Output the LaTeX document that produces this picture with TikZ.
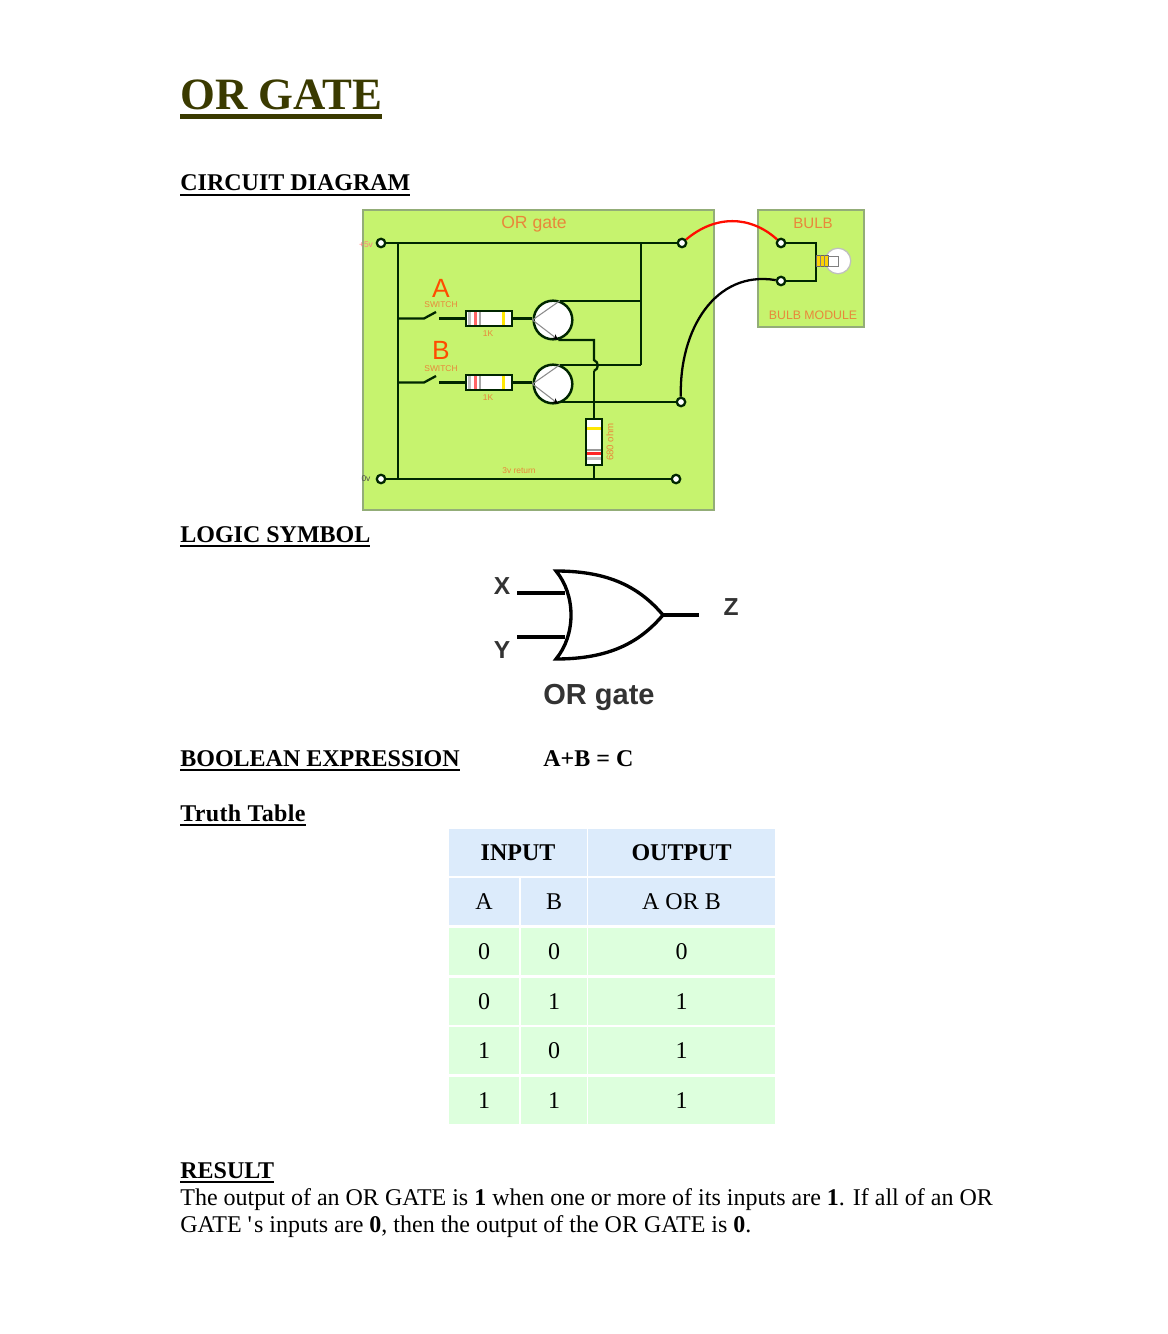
\documentclass[tikz,border=0pt]{standalone}
\usepackage{fontspec}
\setmainfont{Liberation Serif}
\setsansfont{Liberation Sans}
\newfontfamily\plainserif{Liberation Serif}
\usetikzlibrary{calc, arrows.meta}
\definecolor{panelgreen}{HTML}{C6F36E}
\definecolor{panelline}{HTML}{93AD78}
\definecolor{labelorange}{HTML}{E8873A}
\definecolor{titleolive}{HTML}{3A3A00}
\definecolor{headblue}{HTML}{DCEBFB}
\definecolor{cellgreen}{HTML}{DDFFDD}
\newcommand{\ulined}[3][-2.9pt]{\setbox0\hbox{#3}\rlap{\rule[#1]{\wd0}{#2}}\box0}
\tikzset{every node/.style={align=center}}
\tikzset{bodytext/.style={anchor=base west, inner sep=0pt, font=\fontsize{13.66}{15.4}\selectfont}}
\tikzset{headtext/.style={bodytext, font=\fontsize{13.66}{15.4}\selectfont\bfseries}}
\tikzset{wire/.style={line width=1.3pt, black!85!green}}
\tikzset{terminal/.style={circle, draw=black!85!green, fill=white, line width=1.3pt, inner sep=0pt, minimum size=4.8pt}}
\tikzset{panel/.style={draw=panelline, fill=panelgreen, line width=0.7pt}}
\tikzset{tinylabel/.style={text=labelorange, inner sep=0pt, font=\sffamily\fontsize{4.8}{4.8}\selectfont}}
\tikzset{panellabel/.style={text=labelorange, inner sep=0pt, font=\sffamily\fontsize{10}{10}\selectfont}}
\tikzset{bigletter/.style={text=orange!60!red, inner sep=0pt, font=\sffamily\fontsize{15}{15}\selectfont}}
\tikzset{transistor/.style={circle, draw=black!85!green, fill=white, line width=1.4pt, inner sep=0pt, minimum size=22pt}}
\tikzset{inner line/.style={black!45, line width=0.6pt}}
\tikzset{resistor/.style={fill=white, inner sep=0pt, minimum width=26pt, minimum height=8.5pt}}
\tikzset{gateline/.style={line width=1.9pt, line join=miter}}
\tikzset{gatelabel/.style={inner sep=0pt, text=black!80, font=\sffamily\bfseries\fontsize{14}{14}\selectfont}}
\tikzset{cell/.style={inner sep=0pt, minimum height=26.6pt, font=\fontsize{13.66}{15.4}\selectfont}}
\tikzset{headcell/.style={cell, fill=headblue}}
\tikzset{datacell/.style={cell, fill=cellgreen}}

\begin{document}
\begin{tikzpicture}[x=0.02cm, y=-0.02cm]
	\useasboundingbox (0,0) rectangle (1168,1334);
	
	% Headings
	\node[anchor=base west, inner sep=0pt, text=titleolive, font=\fontsize{25.5}{25.5}\selectfont\bfseries] (title) at (180,109.5) {\ulined[-5.6pt]{3.3pt}{OR GATE}};
	\node[headtext] (circuit) at (180,191) {\ulined{1.2pt}{CIRCUIT DIAGRAM}};
	\node[headtext] (logic) at (180,542) {\ulined{1.2pt}{LOGIC SYMBOL}};
	\node[headtext] (boolean) at (180,766) {\ulined{1.2pt}{BOOLEAN EXPRESSION}};
	\node[headtext] (expr) at (543,766) {A+B = C};
	\node[headtext] (truth) at (180,821) {\ulined{1.2pt}{\addfontfeature{LetterSpace=1.5}Truth Table}};
	\node[headtext] (result) at (180,1178) {\ulined{1.2pt}{RESULT}};
	
	% Result text
	\node[bodytext] (line1) at (180,1205) {The output of an OR GATE is \textbf{1} when one or more of its inputs are \textbf{1}. If all of an OR};
	\node[bodytext] (line2) at (180,1232) {GATE {\plainserif '}\kern1.2pt s inputs are \textbf{0}, then the output of the OR GATE is \textbf{0}.};
	
	% Panels
	\draw[panel] (363,210) rectangle (714,510);
	\draw[panel] (758,210) rectangle (864,327);
	
	% Coordinates
	\coordinate (railtop) at (398,243);
	\coordinate (railbot) at (398,479);
	\coordinate (tapc) at (641,243);
	\coordinate (tapa) at (641,301);
	\coordinate (tapb) at (641,365);
	\coordinate (emita) at (594,340);
	\coordinate (hopa) at (594,360);
	\coordinate (hopb) at (594,371);
	\coordinate (loadend) at (594,479);
	\coordinate (bend) at (816,243);
	\coordinate (bendb) at (816,281);
	
	% Terminals
	\node[terminal] (plus) at (381,243) {};
	\node[terminal] (zero) at (381,479) {};
	\node[terminal] (vout) at (682,243) {};
	\node[terminal] (gout) at (681,402) {};
	\node[terminal] (gnd) at (676,479) {};
	\node[terminal] (bulba) at (781,243) {};
	\node[terminal] (bulbb) at (781,281) {};
	
	% Rails
	\draw[wire] (plus) -- (vout);
	\draw[wire] (zero) -- (gnd);
	\draw[wire] (railtop) -- (railbot);
	\draw[wire] (tapc) -- (tapb);
	
	% Switches, resistors and transistors
	\foreach \name/\y/\letter/\lety in {a/320/A/288, b/384/B/350}
	{
		\node[resistor] (r\name) at (489,\y-1.5) {};
		\fill[black!25] ($(r\name.west)+(2,-6.5)$) rectangle ($(r\name.west)+(5,6.5)$);
		\fill[red!60] ($(r\name.west)+(8,-6.5)$) rectangle ($(r\name.west)+(11,6.5)$);
		\fill[black!35] ($(r\name.west)+(13,-6.5)$) rectangle ($(r\name.west)+(15,6.5)$);
		\fill[yellow!90!orange] ($(r\name.west)+(36,-6.5)$) rectangle ($(r\name.west)+(39,6.5)$);
		\draw[wire, line width=1pt] (r\name.north west) rectangle (r\name.south east);
		\node[transistor] (t\name) at (553,\y) {};
		\draw[inner line] (t\name.west) -- (t\name.70);
		\draw[inner line, -{Stealth[black, length=3.5pt, width=3pt]}] (t\name.west) -- (t\name.-75);
		\draw[wire] (railtop |- r\name) -- (424,\y-1.5) -- (436,\y-8);
		\draw[wire] (439,\y-1.5) -- (r\name.west);
		\draw[wire] (r\name.east) -- (r\name.east -| t\name.west);
		\node[bigletter] (l\name) at (441,\lety) {\letter};
		\node[tinylabel] (sw\name) at (441,\y-15) {SWITCH};
		\node[tinylabel] (k\name) at (488,\y+14) {1K};
	}
	
	% Transistor leads
	\draw[wire] (tapa -| ta.70) -- (tapa);
	\draw[wire] (tapb -| tb.70) -- (tapb);
	\draw[wire] (emita -| ta.-75) -- (emita) -- (hopa) .. controls (599,362) and (599,369) .. (hopb);
	\draw[wire] (gout -| tb.-75) -- (gout);
	
	% Load resistor
	\node[resistor, minimum width=8.8pt, minimum height=26pt] (rl) at (594,442) {};
	\fill[yellow!90!orange] ($(rl.north)+(-8,8)$) rectangle ($(rl.north)+(8,11)$);
	\fill[black!40] ($(rl.north)+(-8,30)$) rectangle ($(rl.north)+(8,32)$);
	\fill[red!85] ($(rl.north)+(-8,33)$) rectangle ($(rl.north)+(8,36)$);
	\fill[black!25] ($(rl.north)+(-8,38)$) rectangle ($(rl.north)+(8,41)$);
	\draw[wire, line width=1pt] (rl.north west) rectangle (rl.south east);
	\draw[wire] (hopb) -- (rl.north);
	\draw[wire] (rl.south) -- (loadend);
	
	% Panel labels
	\node[panellabel] (orgate) at (534,224) {OR gate};
	\node[tinylabel, text=red!50] (plusv) at (366,245) {+5v};
	\node[tinylabel, text=black!70] (zerov) at (366,479) {0v};
	\node[tinylabel] (ret) at (519,471) {3v return};
	\node[tinylabel, rotate=90, font=\sffamily\fontsize{5.5}{5.5}\selectfont] (ohm) at (610,442) {680 ohm};
	
	% Bulb
	\draw[wire] (bulba) -- (bend) -- (bendb) -- (bulbb);
	\node[circle, draw=black!25, fill=white, line width=0.7pt, inner sep=0pt, minimum size=14.5pt] (bulb) at (838,261) {};
	\node[draw=black!60, fill=yellow!70!orange, line width=0.4pt, inner sep=0pt, minimum width=6.8pt, minimum height=6.5pt] (socket) at (822,261) {};
	\draw[black!50, line width=0.5pt] (820,255) -- (820,267) (824,255) -- (824,267);
	\draw[black!50, line width=0.5pt] (828,256) -- (838,256) -- (838,266) -- (828,266);
	\node[panellabel, font=\sffamily\fontsize{8.6}{8.6}\selectfont] (bulbtext) at (813,223) {BULB};
	\node[panellabel, font=\sffamily\fontsize{7}{7}\selectfont] (moduletext) at (813,315) {BULB MODULE};
	
	% Flying leads
	\draw[red!90!orange, line width=1.3pt] (vout) .. controls (715,215) and (750,215) .. (bulba);
	\draw[black, line width=1.3pt] (gout) .. controls (679,330) and (715,270) .. (bulbb);
	
	% Logic symbol
	\coordinate (gtop) at (556,571);
	\coordinate (gbot) at (556,659);
	\coordinate (gtip) at (663,615);
	\coordinate (xin) at (517,593);
	\coordinate (yin) at (517,637);
	\coordinate (zout) at (699,615);
	\node[gatelabel] (x) at (502,586) {X};
	\node[gatelabel] (y) at (502,650) {Y};
	\node[gatelabel] (z) at (731,607) {Z};
	\node[gatelabel, font=\sffamily\bfseries\fontsize{16.5}{16.5}\selectfont] (gatename) at (599,697) {OR gate};
	\draw[gateline, line width=2.2pt] (xin) -- +(48,0);
	\draw[gateline, line width=2.2pt] (yin) -- +(48,0);
	\draw[gateline] (gtip) -- (zout);
	\draw[gateline, fill=white] (gtop) .. controls (610,571) and (640,588) .. (gtip) .. controls (640,642) and (610,659) .. (gbot) .. controls (576,635) and (576,595) .. (gtop) -- cycle;
	
	% Truth table
	\node[headcell, minimum width=79pt, font=\fontsize{13.66}{15.4}\selectfont\bfseries] (input) at (518,852.5) {INPUT};
	\node[headcell, minimum width=106.4pt, font=\fontsize{13.66}{15.4}\selectfont\bfseries] (output) at (681.5,852.5) {OUTPUT};
	\node[headcell, minimum width=40pt] (ha) at (484,901.5) {A};
	\node[headcell, minimum width=38pt] (hb) at (554,901.5) {B};
	\node[headcell, minimum width=106.4pt] (hz) at (681.5,901.5) {A OR B};
	\foreach \name/\y/\a/\b/\z in {p/951.5/0/0/0, q/1001.5/0/1/1, r/1050.5/1/0/1, s/1100.5/1/1/1}
	{
		\node[datacell, minimum width=40pt] (\name a) at (484,\y) {\a};
		\node[datacell, minimum width=38pt] (\name b) at (554,\y) {\b};
		\node[datacell, minimum width=106.4pt] (\name z) at (681.5,\y) {\z};
	}
\end{tikzpicture}
\end{document}
